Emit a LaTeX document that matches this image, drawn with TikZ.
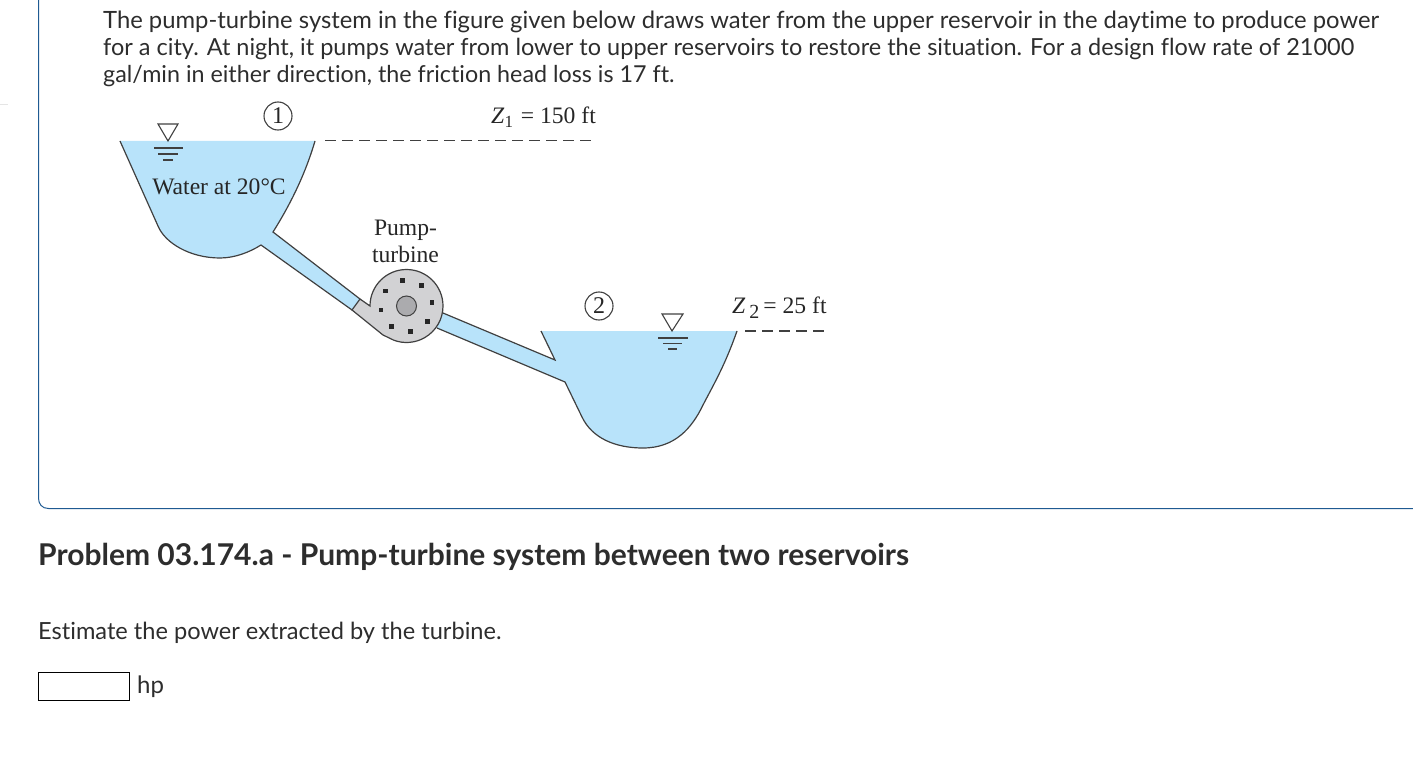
\documentclass[tikz,border=0pt]{standalone}
\usepackage{fontspec}
\setmainfont[Ligatures=NoCommon]{Lato}
\newfontfamily\figfont{Liberation Serif}
\usetikzlibrary{positioning}
\definecolor{waterblue}{HTML}{B8E3FA}
\definecolor{framblue}{HTML}{1F5A92}
\definecolor{pumpgray}{HTML}{D2D2D4}
\definecolor{hubgray}{HTML}{ABABAE}
\definecolor{inktext}{HTML}{2D2D2D}
\tikzset{
  bodytext/.style={anchor=base west,inner sep=0pt,text=inktext,font=\fontsize{23.6}{24}\selectfont},
  figtext/.style={inner sep=0pt,text=black!85,font=\figfont\fontsize{23.6}{27}\selectfont},
  stationmark/.style={circle,draw=black!75,line width=1.1pt,minimum size=28pt,inner sep=0pt,text=black!85,font=\figfont\fontsize{24}{24}\selectfont},
  wall/.style={draw=black!75,line width=1.2pt},
  levelline/.style={draw=black!75,line width=1.3pt,dash pattern=on 11pt off 6pt},
  bolt/.style={fill=black!85,minimum size=4.5pt,inner sep=0pt}
}

\begin{document}
\begin{tikzpicture}[x=1pt,y=-1pt]
\useasboundingbox (0,0) rectangle (1413,762);

\draw[black!10,line width=1pt] (0,104.5) -- (8,104.5);
\draw[framblue,line width=1pt] (38.5,0) -- (38.5,498) .. controls (38.5,504) and (42,508.5) .. (48.5,508.5) -- (1413,508.5);

\foreach \i / \y / \sz / \txt in {1/29/23.8/{The pump-turbine system in the figure given below draws water from the upper reservoir in the daytime to produce power},
  2/56/23.5/{for a city. At night, it pumps water from lower to upper reservoirs to restore the situation. For a design flow rate of 21000},
  3/83/23.3/{gal/min in either direction, the friction head loss is 17 ft.}}
  \node [bodytext,font=\fontsize{\sz}{24}\selectfont] (line\i) at (103,\y) {\txt};

% water
\fill[waterblue] (120,141) -- (315,141) .. controls (305,175) and (290,205) .. (273,232) -- (360,299) -- (352,310) -- (261,245)
  .. controls (250,252) and (235,258) .. (220,258) .. controls (190,258) and (165,243) .. (158,226) -- cycle;
\fill[waterblue] (443,313) -- (555,360) -- (541,331) -- (737,331) .. controls (725,365) and (715,382) .. (703,405)
  .. controls (692,428) and (675,448) .. (643,448) .. controls (615,448) and (592,438) .. (582,417) -- (565,382) -- (437,328) -- cycle;

% walls
\draw[wall] (120,141) -- (158,226) .. controls (165,243) and (190,258) .. (220,258) .. controls (235,258) and (250,252) .. (261,245) -- (352,310);
\draw[wall] (315,141) .. controls (305,175) and (290,205) .. (273,232) -- (360,299);
\draw[wall] (443,313) -- (555,360) -- (541,331);
\draw[wall] (437,328) -- (565,382) -- (582,417) .. controls (592,438) and (615,448) .. (643,448) .. controls (675,448) and (692,428) .. (703,405) .. controls (715,382) and (725,365) .. (737,331);

% pump-turbine
\draw[wall,fill=pumpgray] (370,306) arc[start angle=180,end angle=470,radius=36.5]
  -- (383,335) -- (352,310) -- (360,299) -- cycle;
\node [circle,draw=black!75,line width=1pt,fill=hubgray,minimum size=20pt,inner sep=0pt] (hub) at (406.5,306) {};
\foreach \i / \x / \y in {1/402.7/280.7,2/421.7/285.3,3/432/302.3,4/427.3/321.3,5/410.3/331.3,6/391.3/326.7,7/381/310,8/385.7/291}
  \node [bolt] (bolt\i) at (\x,\y) {};

% surface marks
\draw[draw=black!75,line width=1.1pt] (158,124) -- (178,124) -- (168,141) -- cycle;
\draw[draw=black!75,line width=1.3pt] (154,148) -- (183,148) (158,154) -- (178,154) (163,160) -- (173,160);
\draw[draw=black!75,line width=1.1pt] (662,314) -- (683,314) -- (672,331) -- cycle;
\draw[draw=black!75,line width=1.3pt] (658,338) -- (688,338) (663,343.5) -- (682,343.5) (668,349) -- (677,349);

\coordinate (lev1a) at (325,140.5);
\coordinate (lev1b) at (596,140.5);
\coordinate (lev2a) at (745,331);
\coordinate (lev2b) at (828,331);
\draw[levelline] (lev1a) -- (lev1b);
\draw[levelline] (lev2a) -- (lev2b);

\node [stationmark] (st1) at (278,116) {1};
\node [stationmark] (st2) at (599,306) {2};
\node [figtext,anchor=base west] (zone) at (491,124) {\textit{Z}\raisebox{-4pt}{\fontsize{17}{17}\selectfont 1}\hspace{2pt} = 150 ft};
\node [figtext,anchor=base west] (ztwo) at (732,313) {\textit{Z}\,\raisebox{-5pt}{\fontsize{20}{20}\selectfont 2}\hspace{4pt}= 25 ft};
\node [figtext] (water) at (219,187) {Water at 20°C};
\node [figtext,align=center] (pump) at (405.5,241) {Pump-\\turbine};

\node [bodytext,font=\bfseries\fontsize{30}{30}\selectfont] (title) at (38,565) {Problem 03.174.a - Pump-turbine system between two reservoirs};
\node [bodytext] (ask) at (38,639) {Estimate the power extracted by the turbine.};
\node [draw=black,line width=1pt,minimum width=91pt,minimum height=28pt,inner sep=0pt,anchor=north west] (answer) at (38,672) {};
\node [bodytext,anchor=west,right=7pt of answer,font=\fontsize{24}{24}\selectfont] (unit) {hp};

\end{tikzpicture}
\end{document}
